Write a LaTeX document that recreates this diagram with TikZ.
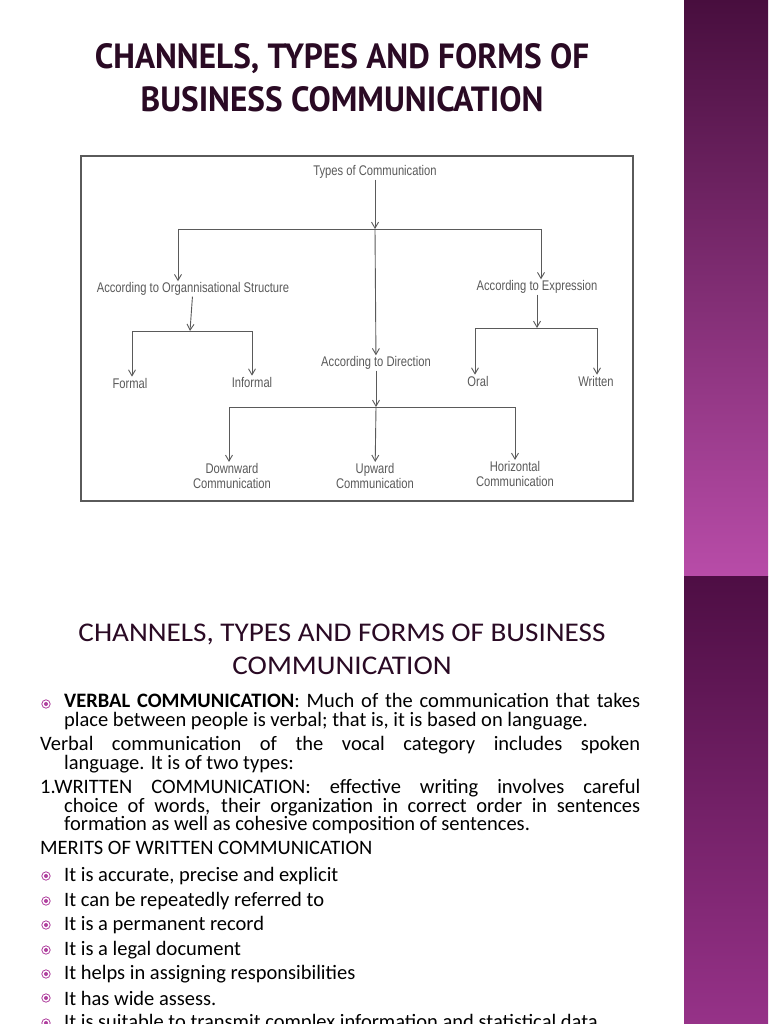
\documentclass[tikz,border=0pt]{standalone}
\usepackage{fontspec}
\setmainfont{Carlito}
\newfontfamily\diafont[FakeStretch=0.8]{Liberation Sans}
\newfontfamily\ttlfont[FakeStretch=0.95]{PT Sans}
\newfontfamily\ttlbfont[FakeStretch=1.08]{Carlito}
\usetikzlibrary{arrows.meta}
\definecolor{ttl}{HTML}{2A0A24}
\definecolor{bul}{HTML}{B0409E}
\definecolor{dg}{HTML}{5A5A5A}
\tikzset{
 dlab/.style={font=\diafont\fontsize{14}{15.5}\selectfont, text=dg, align=center, inner sep=1pt},
 con/.style={draw=dg, line width=0.9pt},
 arr/.style={con, -{Straight Barb[length=6pt,width=7pt]}},
 body/.style={anchor=north west, inner sep=0pt, font=\fontsize{20.5}{18.6}\selectfont, text=black},
}
\newcommand{\bulmark}[1]{\draw[bul, line width=0.8pt] (#1) circle (4.2); \fill[bul] (#1) circle (2);}
\begin{document}
\begin{tikzpicture}[x=1pt,y=-1pt]
\useasboundingbox (0,0) rectangle (768,1024);
\fill[white] (0,0) rectangle (768,1024);
\shade[top color={rgb,255:red,72;green,14;blue,62}, bottom color={rgb,255:red,184;green,76;blue,168}] (684,0) rectangle (768,576);
\shade[top color={rgb,255:red,78;green,14;blue,68}, bottom color={rgb,255:red,150;green,50;blue,136}] (684,576) rectangle (768,1024);
% title 1
\node[font=\ttlfont\bfseries\fontsize{35}{43}\selectfont, text=ttl, align=center] (t1) at (342,78) {CHANNELS, TYPES AND FORMS OF\\BUSINESS COMMUNICATION};
% frame
\draw[dg, line width=1.4pt] (81,156) rectangle (633,501);
\node[dlab] (types) at (375,172) {Types of Communication};
\node[dlab] (org) at (193,289) {According to Organnisational Structure};
\node[dlab] (expr) at (537,287) {According to Expression};
\node[dlab] (dir) at (376,363) {According to Direction};
\node[dlab] (formal) at (130,383) {Formal};
\node[dlab] (informal) at (252,382) {Informal};
\node[dlab] (oral) at (478,381) {Oral};
\node[dlab] (written) at (596,381) {Written};
\node[dlab] (down) at (232,476) {Downward\\Communication};
\node[dlab] (up) at (375,476) {Upward\\Communication};
\node[dlab] (hor) at (515,474) {Horizontal\\Communication};
\coordinate (b1) at (375,229);
\draw[arr] (types) -- (b1);
\draw[con] (178,229) -- (541,229);
\draw[arr] (178,229) -- (org.north -| 178,0);
\draw[arr] (541,229) -- (expr.north -| 541,0);
\draw[arr] (b1) -- (dir);
\coordinate (b2) at (190,331);
\draw[arr] (org) -- (b2);
\draw[con] (132,331) -- (252,331);
\draw[arr] (132,331) -- (formal.north -| 132,0);
\draw[arr] (252,331) -- (informal.north -| 252,0);
\coordinate (b3) at (537,328);
\draw[arr] (expr) -- (b3);
\draw[con] (475,328) -- (597,328);
\draw[arr] (475,328) -- (oral.north -| 475,0);
\draw[arr] (597,328) -- (written.north -| 597,0);
\coordinate (b4) at (376,407);
\draw[arr] (dir) -- (b4);
\draw[con] (229,407) -- (515,407);
\draw[arr] (229,407) -- (down.north -| 229,0);
\draw[arr] (376,407) -- (up);
\draw[arr] (515,407) -- (hor.north -| 515,0);
% title 2
\node[font=\ttlbfont\fontsize{27}{33}\selectfont, text=ttl, align=center] (t2) at (342,649) {CHANNELS, TYPES AND FORMS OF BUSINESS\\COMMUNICATION};
% body
\begin{scope}
\clip (0,576) rectangle (684,1024);
\coordinate (c1) at (46,704); \bulmark{c1}
\node[body, text width=576, align=justify] (p1) at (64,693) {\textbf{VERBAL COMMUNICATION}: Much of the communication that takes\linebreak place between people is verbal; that is, it is based on language.};
\node[body, text width=576, align=justify] (p2) at (64,736) {\hspace*{-24pt}Verbal communication of the vocal category includes spoken\linebreak language. It is of two types:};
\node[body, text width=576, align=justify] (p3) at (64,779) {\hspace*{-24pt}1.WRITTEN COMMUNICATION: effective writing involves careful\linebreak choice of words, their organization in correct order in sentences\linebreak formation as well as cohesive composition of sentences.};
\node[body] (p4) at (40,841) {MERITS OF WRITTEN COMMUNICATION};
\foreach \y/\t [count=\i] in {876/{It is accurate, precise and explicit},901/{It can be repeatedly referred to},925/{It is a permanent record},950/{It is a legal document},974/{It helps in assigning responsibilities},998/{It has wide assess.},1023/{It is suitable to transmit complex information and statistical data.}}{
  \coordinate (m\i) at (46,\y);
  \bulmark{m\i}
  \node[body, anchor=west] (l\i) at (64,\y) {\t};
}
\end{scope}
\end{tikzpicture}
\end{document}
